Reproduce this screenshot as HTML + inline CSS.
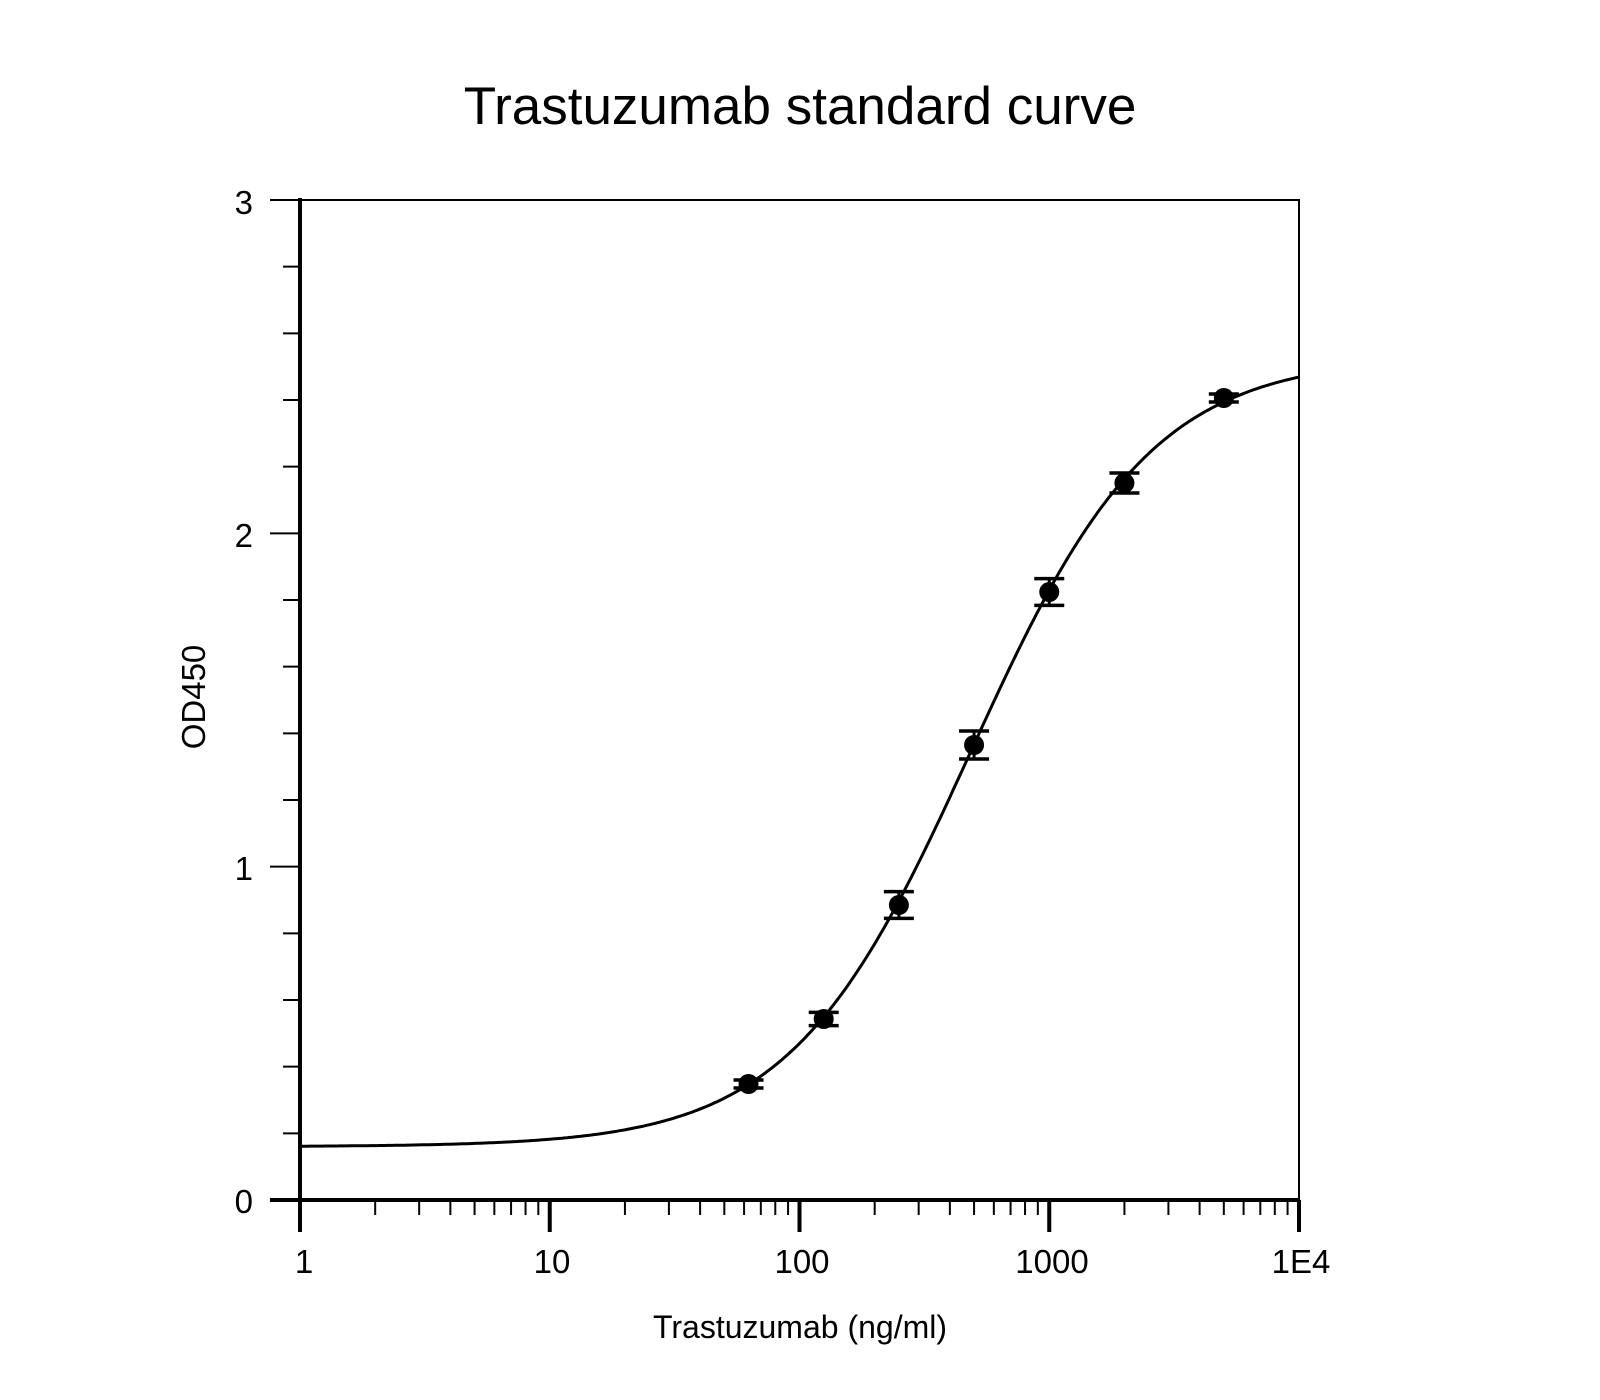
<!DOCTYPE html>
<html><head><meta charset="utf-8"><style>
html,body{margin:0;padding:0;background:#fff;}
svg{display:block;}
text{font-family:"Liberation Sans",Arial,sans-serif;fill:#000;}
</style></head><body>
<svg id="s" width="1600" height="1400" viewBox="0 0 1600 1400" xmlns="http://www.w3.org/2000/svg">
<rect width="1600" height="1400" fill="#fff"/>
<text x="800" y="124" font-size="53" text-anchor="middle">Trastuzumab standard curve</text>
<rect x="300" y="200" width="999" height="1000" fill="none" stroke="#000" stroke-width="2"/>
<line x1="300" y1="198" x2="300" y2="1232" stroke="#000" stroke-width="4"/>
<line x1="270" y1="1200" x2="1300" y2="1200" stroke="#000" stroke-width="4"/>
<g id="ticks" stroke="#000" stroke-width="2"></g>
<g font-size="33" text-anchor="end">
<text x="253" y="1213">0</text><text x="253" y="880">1</text><text x="253" y="547">2</text><text x="253" y="214">3</text>
</g>
<g font-size="33" text-anchor="middle">
<text x="304" y="1273">1</text><text x="552" y="1273">10</text><text x="802" y="1273">100</text><text x="1052" y="1273">1000</text><text x="1301" y="1273">1E4</text>
</g>
<text x="800" y="1338" font-size="32" text-anchor="middle">Trastuzumab (ng/ml)</text>
<text transform="translate(205,697) rotate(-90)" font-size="33" text-anchor="middle">OD450</text>
<path id="curve" fill="none" stroke="#000" stroke-width="3"/>
<g id="pts"></g>
</svg>
<script>
var X=function(v){return 300+249.75*Math.log10(v)};
var Y=function(v){return 1200-333.33*v};
var f=function(x){var a=0.16,d=2.53,c=485,h=1.2;return d+(a-d)/(1+Math.pow(x/c,h));};
var t=document.getElementById('ticks'),s='';
for(var i=0;i<=15;i++){var y=1200-i*66.667;var maj=i%5==0;s+='<line x1="'+(maj?270:283)+'" y1="'+y+'" x2="300" y2="'+y+'"/>';}
for(var d=0;d<4;d++)for(var k=1;k<=10;k++){if(k==1&&d>0)continue;var v=Math.pow(10,d)*k;var x=X(v);var maj=(k==1||k==10);s+='<line x1="'+x+'" y1="1200" x2="'+x+'" y2="'+(maj?1232:1215)+'" stroke-width="'+(maj?4:2)+'"/>';}
t.innerHTML=s;
var p='';for(var i=0;i<=400;i++){var lx=i/100;var x=Math.pow(10,lx);p+=(i?'L':'M')+X(x).toFixed(1)+' '+Y(f(x)).toFixed(1);}
document.getElementById('curve').setAttribute('d',p);
var pts=[[62.5,0.348,0.012],[125,0.543,0.02],[250,0.885,0.04],[500,1.365,0.042],[1000,1.824,0.04],[2000,2.151,0.03],[5000,2.406,0.012]];
var q='';pts.forEach(function(a){var x=X(a[0]),y=Y(a[1]),e=a[2]*333.33;
q+='<line x1="'+x+'" y1="'+(y-e)+'" x2="'+x+'" y2="'+(y+e)+'" stroke="#000" stroke-width="3"/>';
q+='<line x1="'+(x-15)+'" y1="'+(y-e)+'" x2="'+(x+15)+'" y2="'+(y-e)+'" stroke="#000" stroke-width="3.5"/>';
q+='<line x1="'+(x-15)+'" y1="'+(y+e)+'" x2="'+(x+15)+'" y2="'+(y+e)+'" stroke="#000" stroke-width="3.5"/>';
q+='<circle cx="'+x+'" cy="'+y+'" r="10" fill="#000"/>';});
document.getElementById('pts').innerHTML=q;
</script>
</body></html>
